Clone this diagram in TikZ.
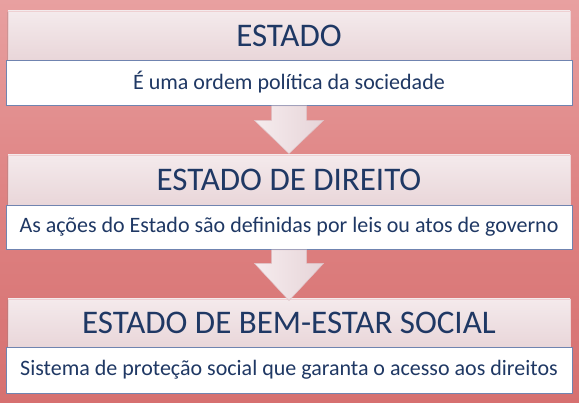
\documentclass[tikz,border=0pt]{standalone}
\usepackage{fontspec}
\setmainfont{Carlito}
\usetikzlibrary{calc,shadows}
\definecolor{navy}{RGB}{31,56,100}
\definecolor{bgtop}{RGB}{232,160,160}
\definecolor{bgmid}{RGB}{222,130,130}
\definecolor{bgbot}{RGB}{214,112,112}
\definecolor{hdrtop}{RGB}{244,234,236}
\definecolor{hdrbot}{RGB}{233,214,217}
\definecolor{hdredge}{RGB}{238,208,210}
\definecolor{subedge}{RGB}{112,132,176}
\definecolor{arrl}{RGB}{246,236,238}
\definecolor{arrd}{RGB}{230,212,216}
\definecolor{arredge}{RGB}{222,195,200}
\tikzset{
  hdrbox/.style={draw=hdredge, line width=0.8pt, top color=hdrtop, bottom color=hdrbot,
    text=navy, font=\fontsize{33}{35}\selectfont, inner sep=0pt,
    drop shadow={shadow xshift=-1pt, shadow yshift=-1pt, opacity=0.25}},
  subbox/.style={draw=subedge, line width=0.8pt, fill=white, text=navy,
    font=\fontsize{22}{24}\selectfont, inner sep=0pt,
    drop shadow={shadow xshift=1pt, shadow yshift=-1.5pt, opacity=0.3}},
  blockarrow/.style={draw=arredge, line width=0.5pt, left color=arrl, right color=arrd}
}
\begin{document}
\begin{tikzpicture}[x=1pt,y=-1pt]
\useasboundingbox (0,0) rectangle (579,403);
\fill[top color=bgtop, bottom color=bgmid] (0,0) rectangle (579,200);
\fill[top color=bgmid, bottom color=bgbot] (0,200) rectangle (579,403);

\node[hdrbox, minimum width=562pt, minimum height=49pt] (h1) at (289,35.5) {ESTADO};
\node[subbox, minimum width=566pt, minimum height=45pt] (s1) at (289,82.5) {É uma ordem política da sociedade};

\node[hdrbox, minimum width=562pt, minimum height=50pt] (h2) at (289,180) {ESTADO DE DIREITO};
\node[subbox, minimum width=566pt, minimum height=44pt] (s2) at (289,227) {As ações do Estado são definidas por leis ou atos de governo};

\node[hdrbox, minimum width=562pt, minimum height=48pt] (h3) at (289,323) {ESTADO DE BEM-ESTAR SOCIAL};
\node[subbox, minimum width=566pt, minimum height=46pt] (s3) at (289,370) {Sistema de proteção social que garanta o acesso aos direitos};

\path[blockarrow] ($(s1.south)+(-17.5,0.5)$) -- ($(s1.south)+(-17.5,15)$) -- ($(s1.south)+(-34.5,15)$)
  -- ($(h2.north)+(0,-1)$) -- ($(s1.south)+(34.5,15)$) -- ($(s1.south)+(17.5,15)$)
  -- ($(s1.south)+(17.5,0.5)$) -- cycle;
\path[blockarrow] ($(s2.south)+(-17.5,0.5)$) -- ($(s2.south)+(-17.5,14)$) -- ($(s2.south)+(-34.5,14)$)
  -- ($(h3.north)+(0,2)$) -- ($(s2.south)+(34.5,14)$) -- ($(s2.south)+(17.5,14)$)
  -- ($(s2.south)+(17.5,0.5)$) -- cycle;
\end{tikzpicture}
\end{document}
